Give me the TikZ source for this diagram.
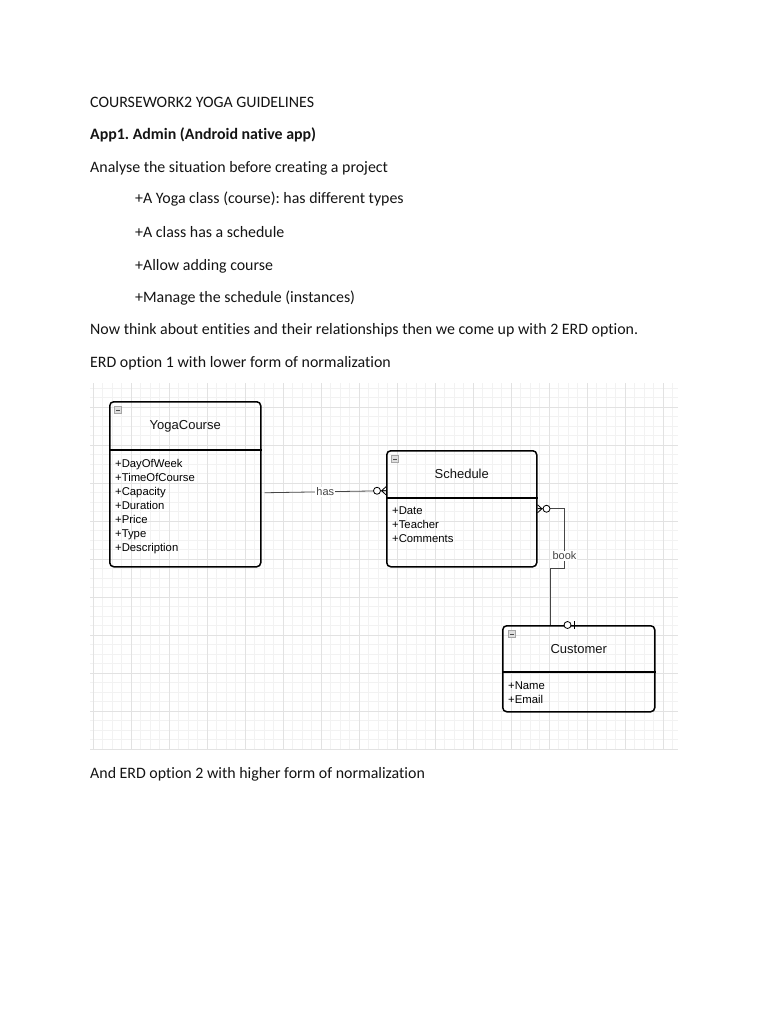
\documentclass[tikz,border=0pt]{standalone}
\usepackage{fontspec}
\setmainfont{Carlito}[Ligatures=NoCommon]
\newfontfamily\erdfont{Liberation Sans}
\usetikzlibrary{positioning,calc}
\definecolor{inkc}{RGB}{20,20,20}
\definecolor{relc}{RGB}{70,70,70}
\definecolor{gridminc}{RGB}{242,242,242}
\definecolor{gridmajc}{RGB}{226,226,226}
\tikzset{
  doc/.style     = {anchor=base west, inner sep=0pt, font=\fontsize{15.9}{19}\selectfont, text=inkc},
  entity/.style  = {draw=black, line width=1.5pt, rounded corners=4pt, anchor=north west, inner sep=0pt},
  divider/.style = {draw=black, line width=1.5pt},
  etitle/.style  = {font=\erdfont\fontsize{13}{15}\selectfont, inner sep=0pt, text=inkc},
  attrs/.style   = {font=\erdfont\fontsize{11.3}{14}\selectfont, align=left, inner sep=0pt, text=black},
  minbox/.style  = {draw=gray!70, fill=gray!25, line width=0.4pt, minimum size=7pt, inner sep=0pt,
                    path picture={\draw[black!70, line width=0.8pt]
                      ([xshift=1.5pt]path picture bounding box.west) -- ([xshift=-1.5pt]path picture bounding box.east);}},
  rel/.style     = {draw=relc, line width=0.8pt},
  rlabel/.style  = {font=\erdfont\fontsize{11}{13}\selectfont, fill=white, inner sep=1pt, text=relc},
  gridmin/.style = {draw=gridminc, line width=0.4pt},
  gridmaj/.style = {draw=gridmajc, line width=0.6pt},
  % crow's foot with ring, tip at the entity edge, pointing along +x
  manyopt/.pic   = {\draw[rel, draw=black] (-4.5,0) -- (0,-4) (-4.5,0) -- (0,0) (-4.5,0) -- (0,4);
                    \draw[rel, draw=black, fill=white] (-9,0) circle (3.5pt);},
  % bar with ring
  oneopt/.pic    = {\draw[rel, draw=black] (-3,-4) -- (-3,4);
                    \draw[rel, draw=black, fill=white] (-9.5,0) circle (3.5pt);},
}

\begin{document}
\frenchspacing
\begin{tikzpicture}[x=1pt, y=-1pt]

\useasboundingbox[fill=white] (0,0) rectangle (768,1024);

% page text
\node[doc] (heading) at (90,108) {COURSEWORK2 YOGA GUIDELINES};
\node[doc] (appone) at (90,140) {\bfseries App1. Admin (Android native app)};
\node[doc] (analyse) at (90,172.5) {Analyse the situation before creating a project};
\node[doc] (itemone) at (135,204) {+A Yoga class (course): has different types};
\node[doc] (itemtwo) at (135,237) {+A class has a schedule};
\node[doc] (itemthree) at (135,270) {+Allow adding course};
\node[doc] (itemfour) at (135,302) {+Manage the schedule (instances)};
\node[doc] (entities) at (90,334) {Now think about entities and their relationships then we come up with 2 ERD option.};
\node[doc] (optone) at (90,367) {ERD option 1 with lower form of normalization};
\node[doc] (opttwo) at (90,778) {And ERD option 2 with higher form of normalization};

% drawing grid
\foreach \gx in {0,...,61} \draw[gridmin] ({93+9.5*\gx},383) -- ({93+9.5*\gx},750);
\foreach \gy in {0,...,38} \draw[gridmin] (90,{749-9.5*\gy}) -- (678,{749-9.5*\gy});
\foreach \gx in {0,4,...,60} \draw[gridmaj] ({93+9.5*\gx},383) -- ({93+9.5*\gx},750);
\foreach \gy in {0,4,...,36} \draw[gridmaj] (90,{749-9.5*\gy}) -- (678,{749-9.5*\gy});

% entities
\node[entity, minimum width=151pt, minimum height=165pt] (yoga) at (109,401) {};
\draw[divider] ([yshift=-49pt]yoga.north west) -- ([yshift=-49pt]yoga.north east);
\node[etitle] (yoganame) at ([yshift=-25pt]yoga.north) {YogaCourse};
\node[attrs, below right=58pt and 6pt of yoga.north west] (yogaattrs)
  {+DayOfWeek\\+TimeOfCourse\\+Capacity\\+Duration\\+Price\\+Type\\+Description};
\node[minbox] (yogamin) at ([xshift=9pt,yshift=-9pt]yoga.north west) {};

\node[entity, minimum width=150pt, minimum height=116pt] (sched) at (386,450) {};
\draw[divider] ([yshift=-48pt]sched.north west) -- ([yshift=-48pt]sched.north east);
\node[etitle] (schedname) at ([yshift=-24pt]sched.north) {Schedule};
\node[attrs, below right=57pt and 6pt of sched.north west] (schedattrs)
  {+Date\\+Teacher\\+Comments};
\node[minbox] (schedmin) at ([xshift=9pt,yshift=-9pt]sched.north west) {};

\node[entity, minimum width=152pt, minimum height=86pt] (cust) at (502,625) {};
\draw[divider] ([yshift=-47pt]cust.north west) -- ([yshift=-47pt]cust.north east);
\node[etitle] (custname) at ([yshift=-24pt]cust.north) {Customer};
\node[attrs, below right=57pt and 6pt of cust.north west] (custattrs)
  {+Name\\+Email};
\node[minbox] (custmin) at ([xshift=10pt,yshift=-9pt]cust.north west) {};

% relationships
\draw[rel] ([xshift=3pt,yshift=-8.5pt]yoga.east) -- node[rlabel, pos=0.5] {has} ([yshift=18pt]sched.west);
\pic at ([yshift=18pt]sched.west) {manyopt};

\coordinate (custjoin) at ([xshift=48pt]cust.north west);
\draw[rel] (sched.east) -- ++(27,0) -- node[rlabel, pos=0.78] {book} ++(0,60) -| (custjoin);
\pic[rotate=180] at (sched.east) {manyopt};
\pic at ([xshift=75pt]cust.north west) {oneopt};

\end{tikzpicture}
\end{document}
